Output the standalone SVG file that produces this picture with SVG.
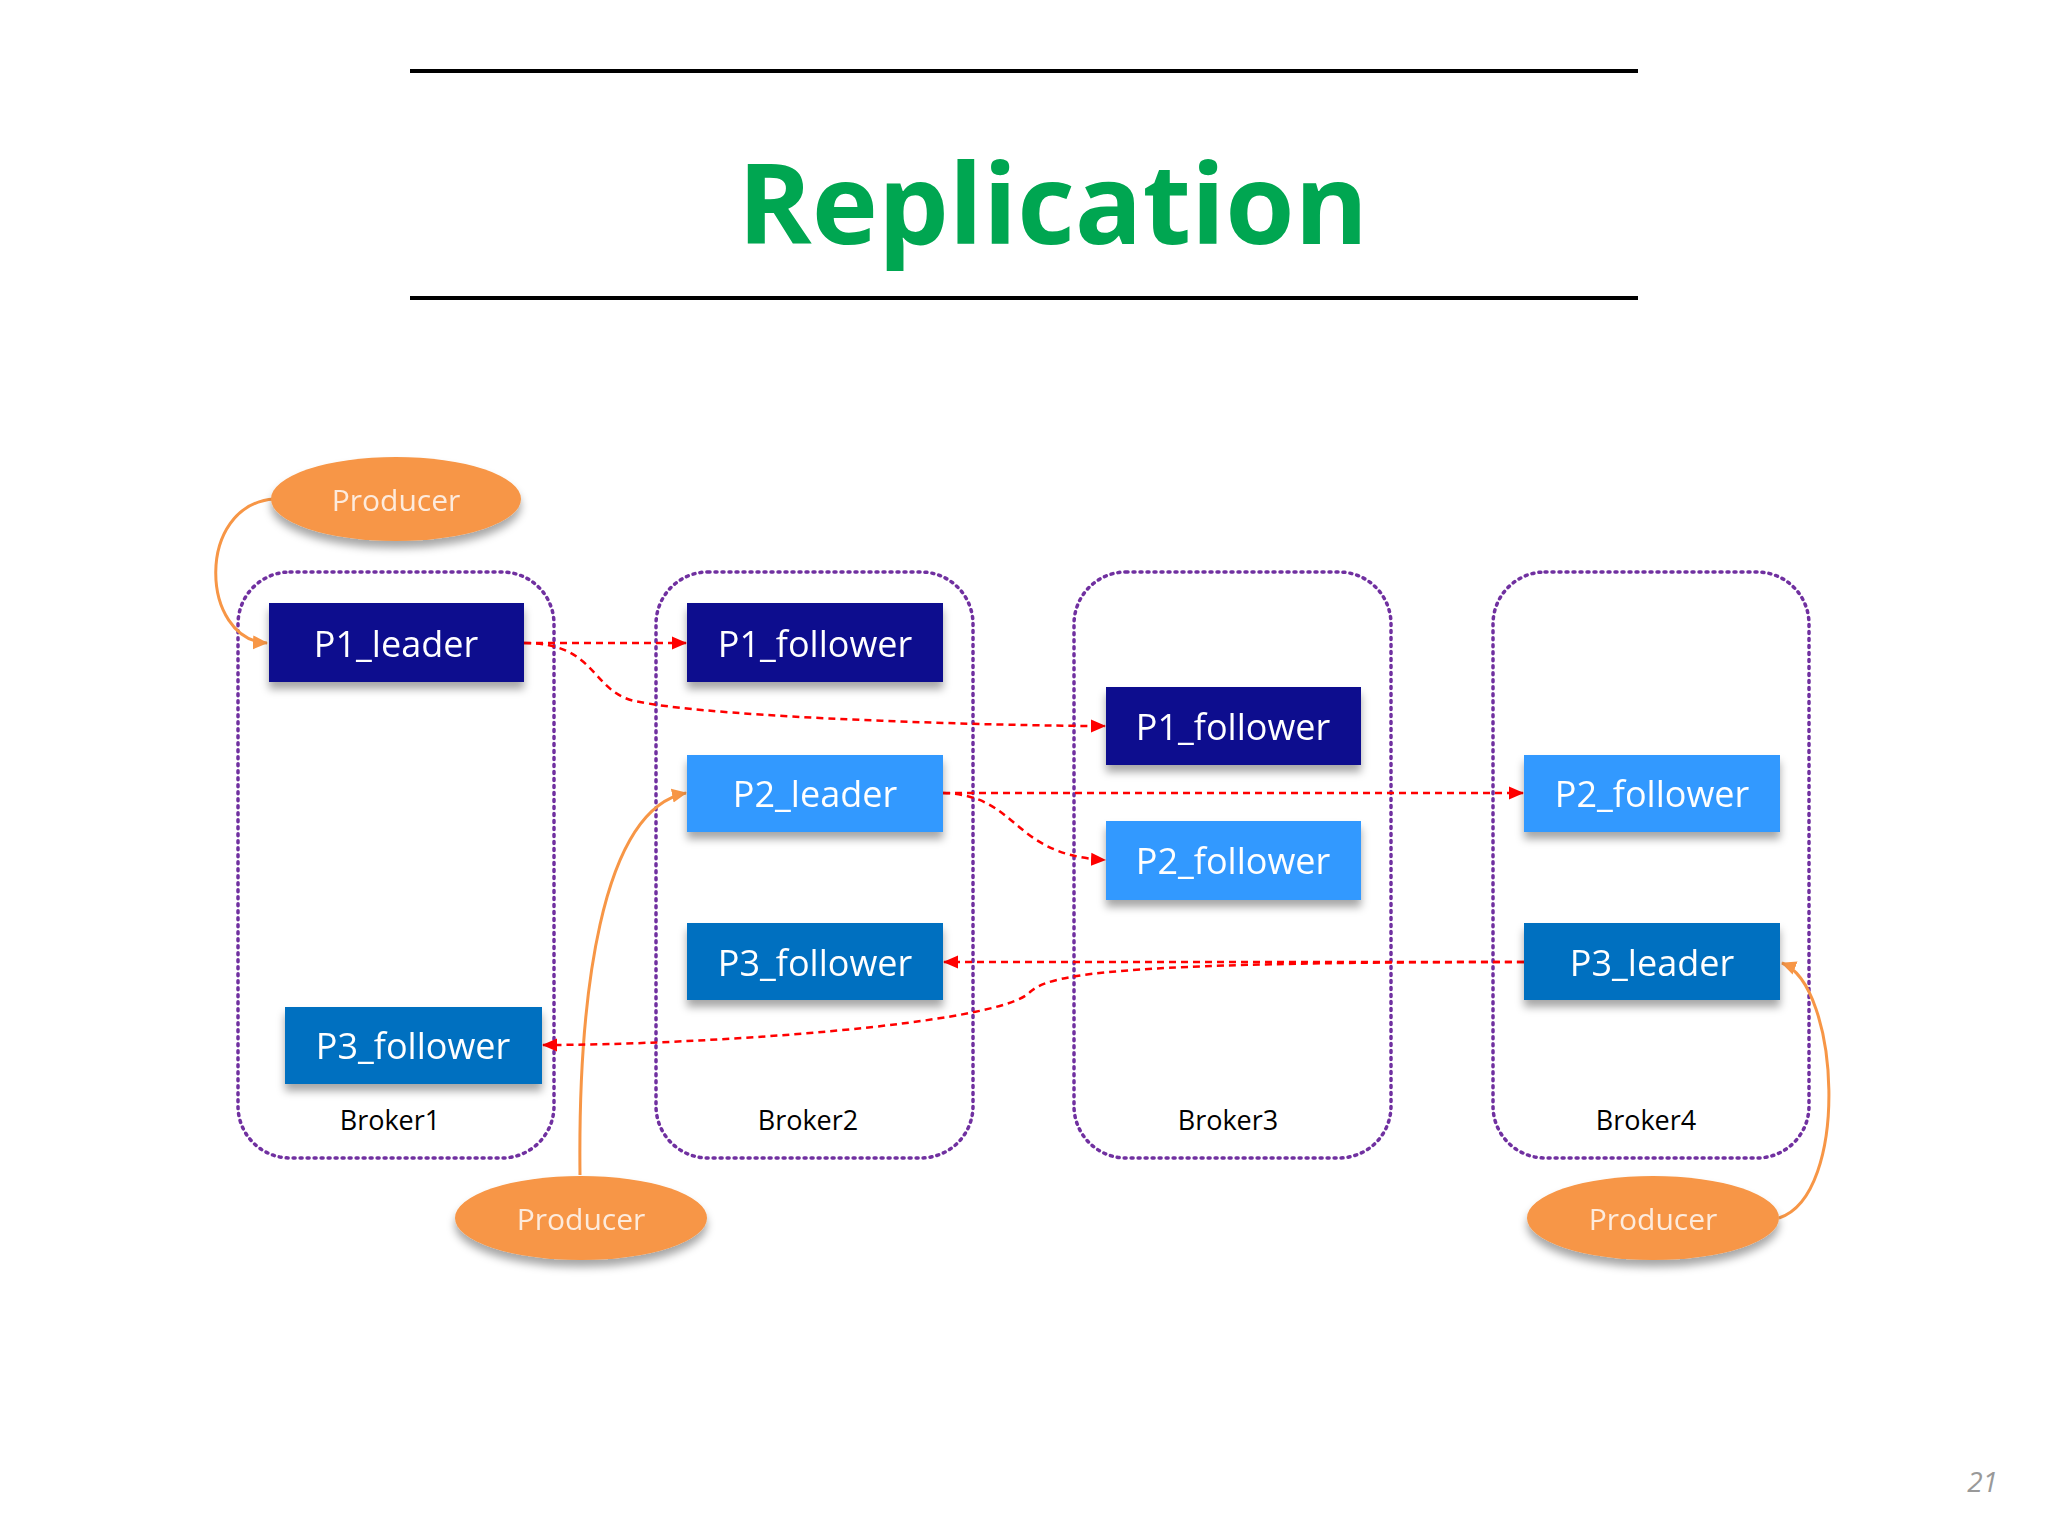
<svg xmlns="http://www.w3.org/2000/svg" width="2048" height="1536" viewBox="0 0 2048 1536">
<style>
.hr{stroke:#000;stroke-width:4}
.broker{fill:none;stroke:#7030A0;stroke-width:3.5;stroke-dasharray:2 5;stroke-linecap:round}
.blabel{font-family:"Open Sans","Liberation Sans",sans-serif;font-size:27px;fill:#000;text-anchor:middle}
.ntext{font-family:"Open Sans","Liberation Sans",sans-serif;font-size:36px;fill:#fff;text-anchor:middle;dominant-baseline:central}
.ptext{font-family:"Open Sans","Liberation Sans",sans-serif;font-size:30px;fill:#FDEBDD;text-anchor:middle;dominant-baseline:central}
.dark{fill:#0A0A8E}.light{fill:#3399FF}.mid{fill:#0070C0}
.prod{fill:#F79646}
.orange{fill:none;stroke:#F79646;stroke-width:3;marker-end:url(#oa)}
.red{fill:none;stroke:#F00;stroke-width:2.5;stroke-dasharray:7 5;marker-end:url(#ra)}
</style>
<defs>
<filter id="sh" x="-20%" y="-20%" width="140%" height="160%"><feDropShadow dx="0" dy="7" stdDeviation="4" flood-color="#000" flood-opacity="0.35"/></filter>
<marker id="ra" markerWidth="15" markerHeight="15" refX="14" refY="7.5" orient="auto" markerUnits="userSpaceOnUse" viewBox="0 0 15 15"><path d="M0,1 L15,7.5 L0,14 z" fill="#F00"/></marker>
<marker id="oa" markerWidth="16" markerHeight="16" refX="14" refY="8" orient="auto" markerUnits="userSpaceOnUse" viewBox="0 0 16 16"><path d="M0,1 L15,8 L0,15 z" fill="#F79646"/></marker>
</defs>
<rect width="2048" height="1536" fill="#fff"/>
<line class="hr" x1="410" y1="71" x2="1638" y2="71"/>
<line class="hr" x1="410" y1="298" x2="1638" y2="298"/>
<text x="1053" y="244" font-family="'Open Sans','Liberation Sans',sans-serif" font-weight="bold" font-size="112" fill="#00A651" text-anchor="middle">Replication</text>
<g id="broker1"><rect class="broker" x="238" y="572" width="316" height="586" rx="52"/><text class="blabel" x="390" y="1130">Broker1</text></g>
<g id="broker2"><rect class="broker" x="656" y="572" width="317" height="586" rx="52"/><text class="blabel" x="808" y="1130">Broker2</text></g>
<g id="broker3"><rect class="broker" x="1074" y="572" width="317" height="586" rx="52"/><text class="blabel" x="1228" y="1130">Broker3</text></g>
<g id="broker4"><rect class="broker" x="1493" y="572" width="316" height="586" rx="52"/><text class="blabel" x="1646" y="1130">Broker4</text></g>
<g id="connectors">
<path class="orange" d="M274,499 C195,505 200,640 267,643"/>
<path class="orange" d="M580,1175 C578,1000 600,810 686,793"/>
<path class="orange" d="M1779,1218 C1850,1195 1840,985 1782,963"/>
<path class="red" d="M524,643 L686,643"/>
<path class="red" d="M524,643 C600,643 590,695 640,702 C720,718 1000,726 1105,726"/>
<path class="red" d="M943,793 L1523,793"/>
<path class="red" d="M943,793 C1020,795 1010,855 1105,860"/>
<path class="red" d="M1524,962 L944,962"/>
<path class="red" d="M1524,962 C1100,962 1050,975 1030,992 C1000,1025 700,1045 543,1045"/>
</g>
<g id="p1_leader" filter="url(#sh)"><rect class="dark" x="269" y="603" width="255" height="79"/><text class="ntext" x="396" y="643">P1_leader</text></g>
<g id="p1_follower_b2" filter="url(#sh)"><rect class="dark" x="687" y="603" width="256" height="79"/><text class="ntext" x="815" y="643">P1_follower</text></g>
<g id="p1_follower_b3" filter="url(#sh)"><rect class="dark" x="1106" y="687" width="255" height="78"/><text class="ntext" x="1233" y="726">P1_follower</text></g>
<g id="p2_leader" filter="url(#sh)"><rect class="light" x="687" y="755" width="256" height="77"/><text class="ntext" x="815" y="793">P2_leader</text></g>
<g id="p2_follower_b3" filter="url(#sh)"><rect class="light" x="1106" y="821" width="255" height="79"/><text class="ntext" x="1233" y="860">P2_follower</text></g>
<g id="p2_follower_b4" filter="url(#sh)"><rect class="light" x="1524" y="755" width="256" height="77"/><text class="ntext" x="1652" y="793">P2_follower</text></g>
<g id="p3_follower_b2" filter="url(#sh)"><rect class="mid" x="687" y="923" width="256" height="77"/><text class="ntext" x="815" y="962">P3_follower</text></g>
<g id="p3_leader" filter="url(#sh)"><rect class="mid" x="1524" y="923" width="256" height="77"/><text class="ntext" x="1652" y="962">P3_leader</text></g>
<g id="p3_follower_b1" filter="url(#sh)"><rect class="mid" x="285" y="1007" width="257" height="77"/><text class="ntext" x="413" y="1045">P3_follower</text></g>
<g id="producer1" filter="url(#sh)"><ellipse class="prod" cx="396" cy="499" rx="125" ry="42"/><text class="ptext" x="396" y="499">Producer</text></g>
<g id="producer2" filter="url(#sh)"><ellipse class="prod" cx="581" cy="1218" rx="126" ry="42"/><text class="ptext" x="581" y="1218">Producer</text></g>
<g id="producer3" filter="url(#sh)"><ellipse class="prod" cx="1653" cy="1218" rx="126" ry="42"/><text class="ptext" x="1653" y="1218">Producer</text></g>
<text x="1998" y="1492" font-family="'Open Sans','Liberation Sans',sans-serif" font-style="italic" font-size="28" fill="#999" text-anchor="end">21</text>
</svg>
